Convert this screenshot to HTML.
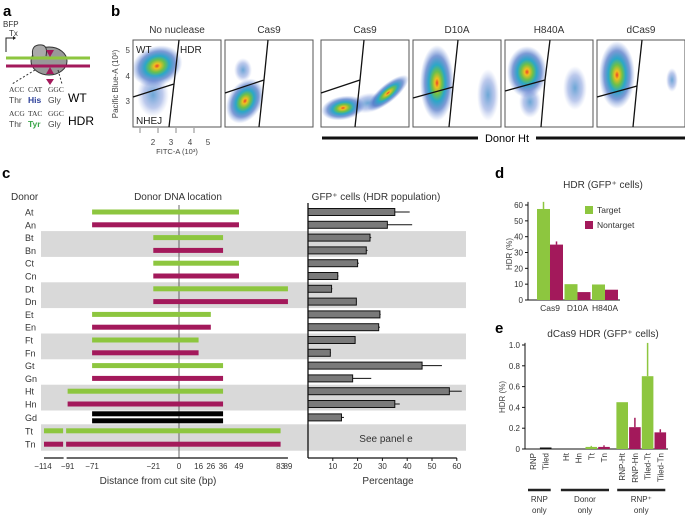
<!DOCTYPE html>
<html><head><meta charset="utf-8"><style>
html,body{margin:0;padding:0;background:#fff}
svg{display:block;font-family:"Liberation Sans",Arial,sans-serif}
</style></head><body>
<svg id="fig" width="685" height="517" viewBox="0 0 685 517">
<defs>
<radialGradient id="heat" cx="50%" cy="50%" r="50%">
<stop offset="0" stop-color="#e8402a"/><stop offset="0.12" stop-color="#f0c020"/><stop offset="0.3" stop-color="#6cc04a"/><stop offset="0.48" stop-color="#2aa8c8"/><stop offset="0.72" stop-color="#3a66c0" stop-opacity="0.65"/><stop offset="1" stop-color="#6a8ad8" stop-opacity="0"/>
</radialGradient>
<radialGradient id="heatlow" cx="50%" cy="50%" r="50%">
<stop offset="0" stop-color="#3a8ac8" stop-opacity="0.75"/><stop offset="0.6" stop-color="#5a7ad0" stop-opacity="0.4"/><stop offset="1" stop-color="#8aa0e0" stop-opacity="0"/>
</radialGradient>
</defs>

<!-- panel a -->
<g>
<text x="3" y="16" font-size="15" font-weight="bold">a</text>
<text x="3" y="27" font-size="8" fill="#333">BFP</text>
<text x="9" y="36" font-size="8" fill="#333">Tx</text>
<path d="M6,52 V38 H15" fill="none" stroke="#222" stroke-width="1"/>
<path d="M13,36 L16,38 L13,40 Z" fill="#222"/>
<ellipse cx="49" cy="61" rx="18" ry="14" fill="#999" stroke="#333"/>
<path d="M33,57 Q30,44 42,45 Q48,46 46,56" fill="#aaa" stroke="#333"/>
<line x1="6" y1="58" x2="90" y2="58" stroke="#8dc63f" stroke-width="3"/>
<line x1="6" y1="66" x2="90" y2="66" stroke="#a3195b" stroke-width="3"/>
<path d="M46,50 L54,50 L50,57 Z M46,74 L54,74 L50,67 Z M46,79 L54,79 L50,85 Z" fill="#a3195b"/>
<line x1="35" y1="70" x2="12" y2="84" stroke="#333" stroke-dasharray="2,2"/>
<line x1="58" y1="70" x2="62" y2="84" stroke="#333" stroke-dasharray="2,2"/>
<g font-size="7.5" fill="#333" font-family="Liberation Serif,serif">
<text x="9" y="92">ACC</text><text x="28" y="92">CAT</text><text x="48" y="92">GGC</text></g>
<g font-size="8.5" fill="#444">
<text x="9" y="103">Thr</text><text x="28" y="103" fill="#2b3f9a" font-weight="bold">His</text><text x="48" y="103">Gly</text></g>
<text x="68" y="102" font-size="12">WT</text>
<g font-size="7.5" fill="#333" font-family="Liberation Serif,serif">
<text x="9" y="116">ACG</text><text x="28" y="116">TAC</text><text x="48" y="116">GGC</text></g>
<g font-size="8.5" fill="#444">
<text x="9" y="127">Thr</text><text x="28" y="127" fill="#3aa64a" font-weight="bold">Tyr</text><text x="48" y="127">Gly</text></g>
<text x="68" y="125" font-size="12">HDR</text>
</g>

<!-- panel b -->
<g id="panelB">
<text x="111" y="16" font-size="15" font-weight="bold">b</text>
<text transform="translate(118,84) rotate(-90)" text-anchor="middle" font-size="8" fill="#444">Pacific Blue-A (10³)</text>
<g font-size="8" fill="#444" text-anchor="end">
<text x="130" y="53">5</text><text x="130" y="79">4</text><text x="130" y="104">3</text></g>
<g font-size="8" fill="#444" text-anchor="middle">
<text x="153" y="145">2</text><text x="171" y="145">3</text><text x="190" y="145">4</text><text x="208" y="145">5</text></g>
<text x="177" y="154" font-size="7.5" fill="#444" text-anchor="middle">FITC-A (10³)</text>
<line x1="322" y1="138" x2="478" y2="138" stroke="#111" stroke-width="3"/>
<line x1="536" y1="138" x2="685" y2="138" stroke="#111" stroke-width="3"/>
<text x="507" y="142" font-size="11" text-anchor="middle">Donor Ht</text>
</g>

<!-- panel c -->
<g id="panelC">
<text x="2" y="178" font-size="15" font-weight="bold">c</text>
<text x="11" y="200" font-size="10" fill="#333">Donor</text>
<text x="178" y="200" font-size="10" fill="#333" text-anchor="middle">Donor DNA location</text>
<text x="376" y="200" font-size="10" fill="#333" text-anchor="middle">GFP⁺ cells (HDR population)</text>
<text x="158" y="484" font-size="10" fill="#333" text-anchor="middle">Distance from cut site (bp)</text>
<text x="388" y="484" font-size="10" fill="#333" text-anchor="middle">Percentage</text>
</g>

<!-- panel d -->
<g id="panelD">
<text x="495" y="178" font-size="15" font-weight="bold">d</text>
<text x="603" y="188" font-size="10" fill="#333" text-anchor="middle">HDR (GFP⁺ cells)</text>
<text transform="translate(512,254) rotate(-90)" font-size="8" fill="#444" text-anchor="middle">HDR (%)</text>
<rect x="585" y="206" width="8" height="8" fill="#8dc63f"/>
<text x="597" y="213" font-size="8.5" fill="#333">Target</text>
<rect x="585" y="221" width="8" height="8" fill="#a3195b"/>
<text x="597" y="228" font-size="8.5" fill="#333">Nontarget</text>
</g>

<!-- panel e -->
<g id="panelE">
<text x="495" y="333" font-size="15" font-weight="bold">e</text>
<text x="603" y="337" font-size="10" fill="#333" text-anchor="middle">dCas9 HDR (GFP⁺ cells)</text>
<text transform="translate(505,397) rotate(-90)" font-size="8" fill="#444" text-anchor="middle">HDR (%)</text>
</g>
</svg>
<script>
var NS='http://www.w3.org/2000/svg';
var svg=document.getElementById('fig');
function mk(tag,attrs,parent){var e=document.createElementNS(NS,tag);for(var k in attrs)e.setAttribute(k,attrs[k]);(parent||svg).appendChild(e);return e;}
var GREEN='#8dc63f',MAG='#a3195b';

/* ---------- panel b data ---------- */
var facsTitles=['No nuclease','Cas9','Cas9','D10A','H840A','dCas9'];
var facsGateTop=[46,43,43,45,45,45];
var facsGateMid=[41,39,39,40,40,40];
var facsGateMidY=[84,80,80,87,80,86];
var facsGateBot=[36,34,34,36,36,36];
var facsGateLeftY=[97,93,93,98,91,97];
var facsBoxX=[133,225,321,413,505,597];
var gB=document.getElementById('panelB');
facsTitles.forEach(function(t,i){
  var x0=facsBoxX[i],w=88,top=40,bot=127;
  var g=mk('g',{},gB);
  
  
  var tt=mk('text',{x:x0+w/2,y:33,'font-size':10,'text-anchor':'middle',fill:'#333'},g);tt.textContent=t;
  
  
  var cp='cp'+i;var c=mk('clipPath',{id:cp},g);mk('rect',{x:x0,y:top,width:w,height:bot-top},c);
  var bl=mk('g',{'clip-path':'url(#'+cp+')'},g);
  var blobs=[];
  if(i==0)blobs=[[24,66,26,20,-20,'heat'],[20,95,16,22,0,'heatlow']];
  if(i==1)blobs=[[20,101,17,24,30,'heat'],[18,70,9,12,0,'heatlow']];
  if(i==2)blobs=[[22,108,22,12,-10,'heat'],[47,103,18,10,-10,'heatlow'],[67,93,26,9,-40,'heat']];
  if(i==3)blobs=[[24,83,17,38,0,'heat'],[75,95,11,26,0,'heatlow']];
  if(i==4)blobs=[[22,72,20,26,0,'heat'],[25,102,11,16,0,'heatlow'],[70,88,12,22,0,'heatlow']];
  if(i==5)blobs=[[20,75,18,34,0,'heat'],[75,80,6,12,0,'heatlow']];
  blobs.forEach(function(b){mk('ellipse',{cx:0,cy:0,rx:b[2],ry:b[3],fill:'url(#'+b[5]+')',transform:'translate('+(x0+b[0])+','+b[1]+') rotate('+b[4]+')'},bl);});
  mk('rect',{x:x0,y:top,width:w,height:bot-top,fill:'none',stroke:'#555','stroke-width':1},g);
  var gate=mk('path',{d:'M'+x0+','+facsGateLeftY[i]+' L'+(x0+facsGateMid[i])+','+facsGateMidY[i]+' M'+(x0+facsGateTop[i])+','+top+' L'+(x0+facsGateMid[i])+','+facsGateMidY[i]+' L'+(x0+facsGateBot[i])+','+bot,fill:'none',stroke:'#111','stroke-width':1.3},g);
  
  
});
[['WT',136,53],['HDR',180,53],['NHEJ',136,124]].forEach(function(l){var t=mk('text',{x:l[1],y:l[2],'font-size':10,fill:'#222'},gB);t.textContent=l[0];

});
for(var k=0;k<4;k++){mk('line',{x1:140+k*18,y1:128,x2:140+k*18,y2:133,stroke:'#888'},gB);}

/* ---------- panel c data ---------- */
var donors=['At','An','Bt','Bn','Ct','Cn','Dt','Dn','Et','En','Ft','Fn','Gt','Gn','Ht','Hn','Gd','Tt','Tn'];
var donorStart=[-71,-71,-21,-21,-21,-21,-21,-21,-71,-71,-71,-71,-71,-71,-91,-91,-71,-114,-114];
var donorEnd=[49,49,36,36,49,49,89,89,26,26,16,16,36,36,36,36,36,83,83];
var hdrPct=[35,32,25,23.5,20,12,9.5,19.5,29,28.5,19,9,46,18,57,35,13.5,null,null];
var hdrErr=[41,42,25.5,24,20.5,12.3,9.8,19.6,29.3,29,19.2,9.2,54,25.5,62,37,14.5,null,null];
var distTicks=[-114,-91,-71,-21,0,16,26,36,49,83,89];
var pctTicks=[10,20,30,40,50,60];

var gC=document.getElementById('panelC');
function xDist(v){return v<-91? 44+(v+114)*0.5 : 179+v*1.224;}
function xPct(v){return 308+v*2.48;}
function rowYf(i){return 212+i*12.8-(i>=16?(i-15)*-0.6:0);}
[[2,3],[6,7],[10,11],[14,15],[17,18]].forEach(function(p){
  var y0=rowYf(p[0])-6.5,y1=rowYf(p[1])+6.5;
  var r=mk('rect',{x:41,y:y0,width:425,height:y1-y0,fill:'#d9d9d9'},gC);
  
  
});
var cut=mk('line',{x1:179,y1:205,x2:179,y2:458,stroke:'#444','stroke-width':0.8},gC);


donors.forEach(function(d,i){
  var y=rowYf(i);
  var t=mk('text',{x:25,y:y+3.5,'font-size':9,fill:'#333'},gC);t.textContent=d;
  
  
  var col=d[1]=='t'?GREEN:(d[1]=='n'?MAG:'#000');
  if(d=='Gd'){
    [-3.5,3.5].forEach(function(o){var b=mk('rect',{x:xDist(donorStart[i]),y:y+o-2.6,width:xDist(donorEnd[i])-xDist(donorStart[i]),height:5,fill:'#000'},gC);
    
    });
  } else {
    var b=mk('rect',{x:xDist(donorStart[i]),y:y-2.5,width:xDist(donorEnd[i])-xDist(donorStart[i]),height:5,fill:col},gC);
    
    
    if(donorStart[i]<-91){mk('rect',{x:xDist(-91)-4.5,y:y-3,width:3,height:6,fill:'#d9d9d9'},gC);}
  }
  if(hdrPct[i]!=null){
    var by=y-3.5;
    var hb=mk('rect',{x:308,y:by,width:xPct(hdrPct[i])-308,height:7,fill:'#7a7a7a',stroke:'#111','stroke-width':1},gC);
    
    
    var e=mk('line',{x1:xPct(hdrPct[i]),y1:y,x2:xPct(hdrErr[i]),y2:y,stroke:'#111','stroke-width':1},gC);
    
    
  }
});
var sp=mk('text',{x:386,y:442,'font-size':10,fill:'#333','text-anchor':'middle'},gC);sp.textContent='See panel e';


mk('line',{x1:xDist(-114),y1:458,x2:xDist(-91)-4,y2:458,stroke:'#111','stroke-width':1.2},gC);
var ax=mk('line',{x1:xDist(-91)-1,y1:458,x2:xDist(89),y2:458,stroke:'#111','stroke-width':1.2},gC);


distTicks.forEach(function(v){var t=mk('text',{x:xDist(v)+(v==-114?-1:0),y:469,'font-size':8,fill:'#333','text-anchor':'middle'},gC);t.textContent=(v<0?'\u2212'+(-v):v);

});
var ya=mk('line',{x1:308,y1:203,x2:308,y2:458,stroke:'#111','stroke-width':1.3},gC);


var xa=mk('line',{x1:308,y1:458,x2:xPct(60),y2:458,stroke:'#111','stroke-width':1.2},gC);


pctTicks.forEach(function(v){mk('line',{x1:xPct(v),y1:458,x2:xPct(v),y2:461,stroke:'#111'},gC);var t=mk('text',{x:xPct(v),y:469,'font-size':8,fill:'#333','text-anchor':'middle'},gC);t.textContent=v;

});

/* ---------- panel d data ---------- */
var dCats=['Cas9','D10A','H840A'];
var dTarget=[57.5,10,9.8];
var dTargetErr=[62,10,9.8];
var dNontarget=[35,5,6.5];
var dNontargetErr=[37,5,6.5];
var dTicks=[0,10,20,30,40,50,60];
var gD=document.getElementById('panelD');
function yD(v){return 300-v*1.583;}
mk('line',{x1:528,y1:yD(62),x2:528,y2:300,stroke:'#111','stroke-width':1},gD);
mk('line',{x1:528,y1:300,x2:620,y2:300,stroke:'#111','stroke-width':1},gD);
dTicks.forEach(function(v){mk('line',{x1:525,y1:yD(v),x2:528,y2:yD(v),stroke:'#111'},gD);var t=mk('text',{x:523,y:yD(v)+3,'font-size':8,fill:'#333','text-anchor':'end'},gD);t.textContent=v;

});
dCats.forEach(function(c,i){
  var xc=550+i*27.5;
  var g=mk('rect',{x:xc-13,y:yD(dTarget[i]),width:13,height:300-yD(dTarget[i]),fill:GREEN},gD);
  
  
  var m=mk('rect',{x:xc,y:yD(dNontarget[i]),width:13,height:300-yD(dNontarget[i]),fill:MAG},gD);
  
  
  mk('line',{x1:xc-6.5,y1:yD(dTarget[i]),x2:xc-6.5,y2:yD(dTargetErr[i]),stroke:GREEN,'stroke-width':1.5},gD);
  mk('line',{x1:xc+6.5,y1:yD(dNontarget[i]),x2:xc+6.5,y2:yD(dNontargetErr[i]),stroke:MAG,'stroke-width':1.5},gD);
  var t=mk('text',{x:xc,y:311,'font-size':8.5,fill:'#333','text-anchor':'middle'},gD);t.textContent=c;
  
  
});

/* ---------- panel e data ---------- */
var eCats=['RNP','Tiled','Ht','Hn','Tt','Tn','RNP-Ht','RNP-Hn','Tiled-Tt','Tiled-Tn'];
var eGroup=[0,0,1,1,1,1,2,2,2,2];
var eVals=[0,0.01,0,0,0.02,0.02,0.45,0.21,0.70,0.16];
var eErr=[0,0.01,0,0,0.03,0.035,0.45,0.30,1.02,0.19];
var eTicks=[0,0.2,0.4,0.6,0.8,1.0];
var eTickLabels=['0','0.2','0.4','0.6','0.8','1.0'];
var eGroupNames=[['RNP','only'],['Donor','only'],['RNP⁺','only']];
var gE=document.getElementById('panelE');
function yE(v){return 449-v*104;}
function xE(i){return 533+i*12.7+eGroup[i]*7.5-(i>=6?2:0);}
mk('line',{x1:525,y1:yE(1.02),x2:525,y2:449,stroke:'#111','stroke-width':1},gE);
mk('line',{x1:525,y1:449,x2:668,y2:449,stroke:'#111','stroke-width':1},gE);
eTicks.forEach(function(v,k){mk('line',{x1:522,y1:yE(v),x2:525,y2:yE(v),stroke:'#111'},gE);var t=mk('text',{x:520,y:yE(v)+3,'font-size':8,fill:'#333','text-anchor':'end'},gE);t.textContent=eTickLabels[k];

});
eCats.forEach(function(c,i){
  var xc=xE(i);
  var col=c.slice(-1)=='t'?GREEN:(c.slice(-1)=='n'?MAG:'#111');
  var h=Math.max(449-yE(eVals[i]),eVals[i]>0?1.5:0);
  var b=mk('rect',{x:xc-5.8,y:449-h,width:11.6,height:h,fill:col},gE);
  
  
  if(eErr[i]>eVals[i]){var e=mk('line',{x1:xc,y1:yE(eVals[i]),x2:xc,y2:yE(eErr[i]),stroke:col,'stroke-width':1.5},gE);
  
  }
  var t=mk('text',{transform:'translate('+(xc+3)+',453) rotate(-90)','font-size':8,fill:'#333','text-anchor':'end'},gE);t.textContent=c;
  
  
});
[[0,1],[2,5],[6,9]].forEach(function(r,gi){
  var x0=xE(r[0])-5,x1=xE(r[1])+5;
  var l=mk('line',{x1:x0,y1:490,x2:x1,y2:490,stroke:'#222','stroke-width':2.5},gE);
  
  
  eGroupNames[gi].forEach(function(s,k){var t=mk('text',{x:(x0+x1)/2,y:502+k*11,'font-size':8,fill:'#333','text-anchor':'middle'},gE);t.textContent=s;
  
  });
});
</script>
</body></html>
